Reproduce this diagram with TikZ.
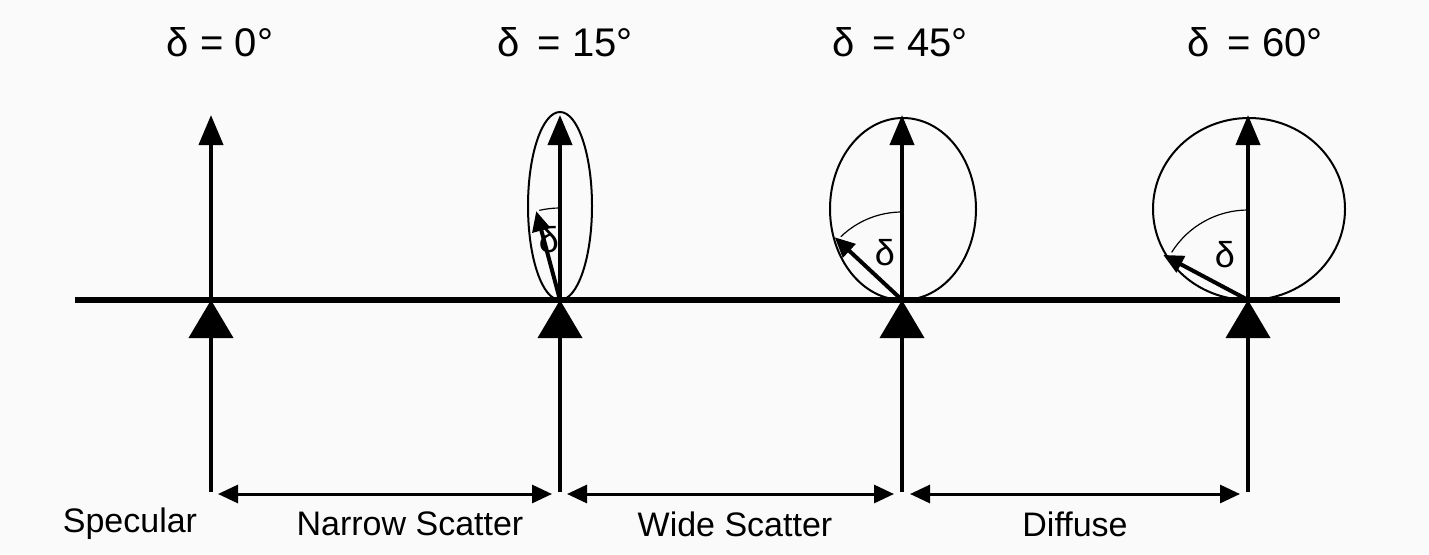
\documentclass[tikz,border=0pt]{standalone}
\usepackage{fontspec}
\setmainfont{Liberation Sans}
\usetikzlibrary{arrows.meta,calc}
\begin{document}
\begin{tikzpicture}[x=0.5pt,y=0.5pt,
  vert/.style={line width=2pt},
  bigtip/.style={vert,-{Triangle[width=22pt,length=19pt]}},
  toptip/.style={vert,-{Triangle[width=12pt,length=15pt]}},
  lobe/.style={line width=1pt},
  thin/.style={line width=0.6pt},
  darr/.style={line width=1.5pt,{Triangle[width=9pt,length=10pt]}-{Triangle[width=9pt,length=10pt]}},
  title/.style={font=\fontsize{20}{24}\selectfont},
  lab/.style={font=\fontsize{17}{20}\selectfont},
  dl/.style={font=\fontsize{18}{22}\selectfont}]
\useasboundingbox[fill=white!96!gray] (0,0) rectangle (1429,554);
\foreach \i/\x in {1/211,2/560,3/902,4/1248}{
  \coordinate (b\i) at (\x,62);
  \coordinate (p\i) at (\x,254);
  \coordinate (t\i) at (\x,439);
  \coordinate (a\i) at (\x,60);
}
\coordinate (L) at (75,254); \coordinate (R) at (1340,254);
\draw[line width=3pt] (L) -- (R);
\foreach \i in {1,...,4}{
  \draw[bigtip] (b\i) -- (p\i);
  \draw[toptip] (p\i) -- (t\i);
}
% lobes
\draw[lobe] (560,348) ellipse[x radius=32,y radius=94];
\draw[lobe] (903,345) ellipse[x radius=73,y radius=91];
\draw[lobe] (1249,345) ellipse[x radius=96,y radius=91];
% delta arrows
\coordinate (d2) at ($(p2)+(105:92)$);
\coordinate (d3) at ($(p3)+(137:92)$);
\coordinate (d4) at ($(p4)+(152:96)$);
\foreach \i in {2,3,4}{\draw[vert,-{Triangle[width=9pt,length=10pt]}] (p\i) -- (d\i);}
\draw[thin] ($(p2)+(0,92)$) arc[start angle=90,end angle=103,radius=92];
\draw[thin] ($(p3)+(0,88)$) arc[start angle=90,end angle=134,radius=88];
\draw[thin] ($(p4)+(0,90)$) arc[start angle=90,end angle=148,radius=90];
\node[dl] (g2) at (549,314) {δ};
\node[dl] (g3) at (885,301) {δ};
\node[dl] (g4) at (1225,299) {δ};
% bottom
\draw[darr] ($(a1)+(7,0)$) -- ($(a2)+(-8,0)$);
\draw[darr] ($(a2)+(7,0)$) -- ($(a3)+(-8,0)$);
\draw[darr] ($(a3)+(8,0)$) -- ($(a4)+(-8,0)$);
\node[lab] (s1) at (130,30) {Specular};
\node[lab] (s2) at (410,30) {Narrow Scatter};
\node[lab] (s3) at (735,30) {Wide Scatter};
\node[lab] (s4) at (1075,30) {Diffuse};
\node[title] (h1) at (220,512) {δ = 0°};
\node[title] (h2) at (565,512) {δ \,= 15°};
\node[title] (h3) at (900,512) {δ \,= 45°};
\node[title] (h4) at (1255,512) {δ \,= 60°};
\end{tikzpicture}
\end{document}
